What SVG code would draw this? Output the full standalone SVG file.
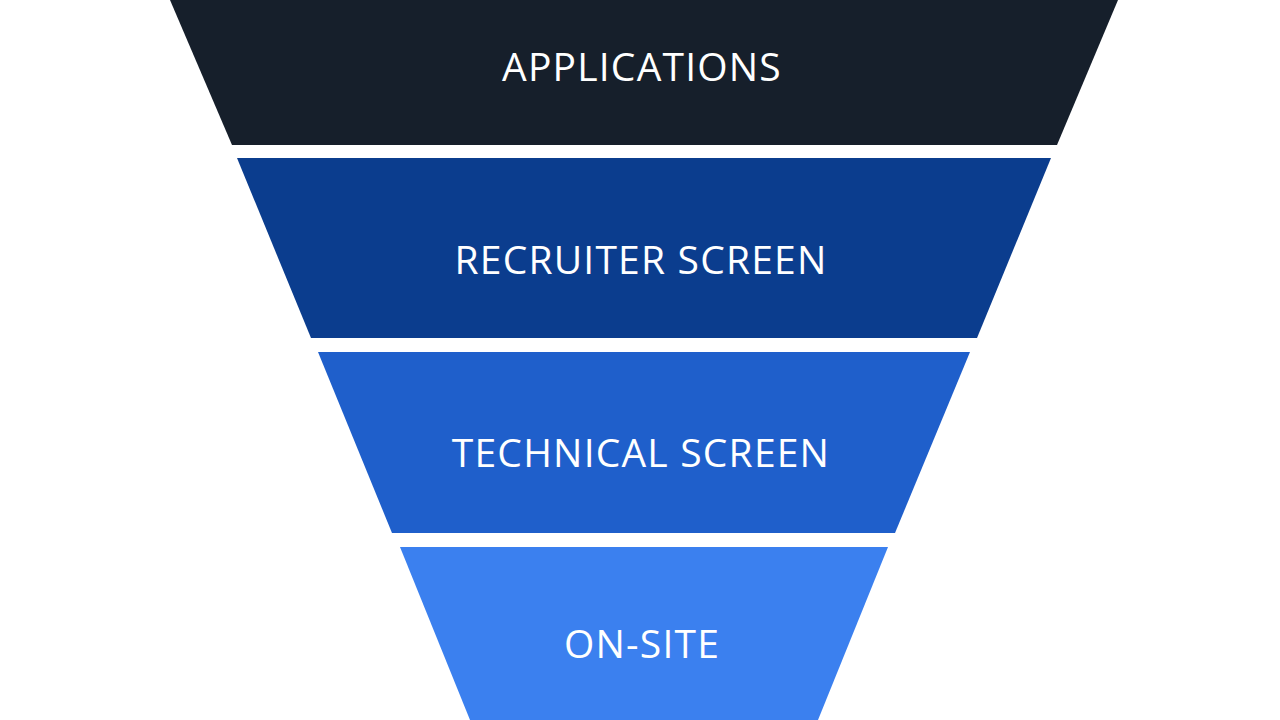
<svg xmlns="http://www.w3.org/2000/svg" width="1280" height="720" viewBox="0 0 1280 720">
<style>
text{font-family:"Open Sans","Liberation Sans",sans-serif;font-size:39px;letter-spacing:1.2px;fill:#fff;text-anchor:middle}
</style>
<rect width="1280" height="720" fill="#fff"/>
<g id="applications"><polygon points="170,0 1118,0 1057,145 232,145" fill="#161f2b"/><text x="642" y="81">APPLICATIONS</text></g>
<g id="recruiter"><polygon points="237,158 1051,158 977,338 311,338" fill="#0b3d8e"/><text x="641" y="274">RECRUITER SCREEN</text></g>
<g id="technical"><polygon points="318,352 970,352 895,533 392,533" fill="#1f5fcb"/><text x="641" y="467">TECHNICAL SCREEN</text></g>
<g id="onsite"><polygon points="400,547 888,547 818,720 470,720" fill="#3b80ef"/><text x="642" y="658">ON-SITE</text></g>
<g id="connectors"/>
</svg>
